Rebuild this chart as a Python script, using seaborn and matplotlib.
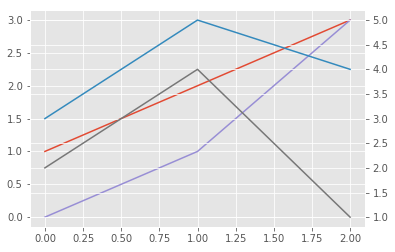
import matplotlib
matplotlib.use("Agg")
import matplotlib.pyplot as plt
import seaborn as sns
import pandas as pd

plt.style.use("ggplot")

x = [0, 1, 2]
red_left = [1, 2, 3]
purple_left = [0, 1, 3]
blue_right = [3, 5, 4]
gray_right = [2, 4, 1]

fig = plt.figure(figsize=(395 / 72, 252 / 72), dpi=72)
ax1 = fig.add_axes([0.075, 0.0992, 0.85, 0.8603])
ax2 = ax1.twinx()

sns.lineplot(x=x, y=red_left, ax=ax1, color="#E24A33", linewidth=1.5)
sns.lineplot(x=x, y=purple_left, ax=ax1, color="#988ED5", linewidth=1.5)
sns.lineplot(x=x, y=blue_right, ax=ax2, color="#348ABD", linewidth=1.5)
sns.lineplot(x=x, y=gray_right, ax=ax2, color="#777777", linewidth=1.5)

ax1.set_xticks([0, 0.25, 0.5, 0.75, 1.0, 1.25, 1.5, 1.75, 2.0])
ax1.set_yticks([0, 0.5, 1.0, 1.5, 2.0, 2.5, 3.0])
ax2.set_yticks([1.0, 1.5, 2.0, 2.5, 3.0, 3.5, 4.0, 4.5, 5.0])

fig.savefig("out.png", dpi=72)
